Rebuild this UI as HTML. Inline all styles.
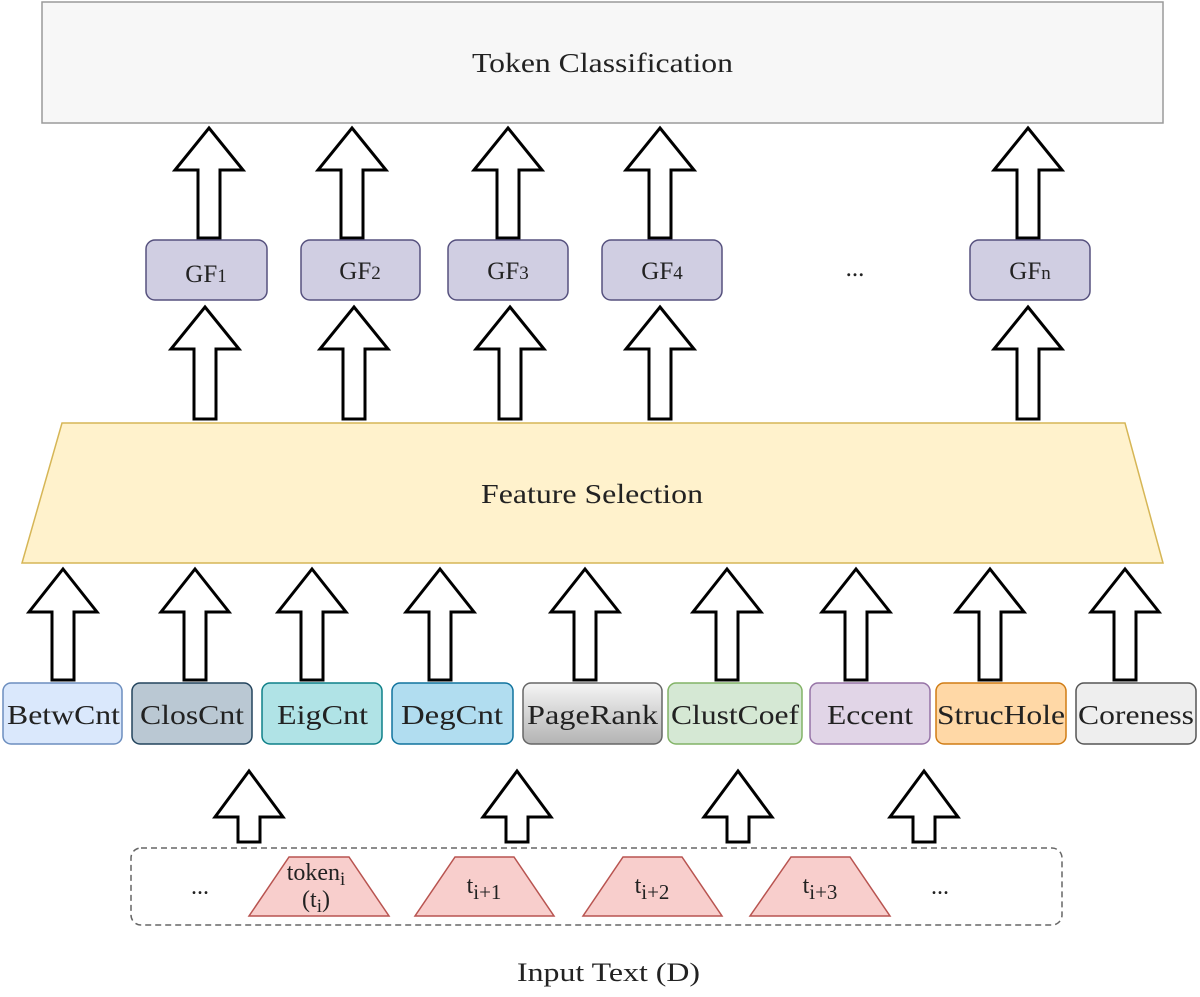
<!DOCTYPE html>
<html><head><meta charset="utf-8"><style>
html,body{margin:0;padding:0;background:#fff}
svg text{font-family:"Liberation Serif",serif;fill:#222}
</style></head><body>
<svg width="1200" height="992" viewBox="0 0 1200 992" xmlns="http://www.w3.org/2000/svg">
<rect x="42" y="2" width="1121" height="121" fill="#f7f7f7" stroke="#9a9a9a" stroke-width="1.5"/>
<text x="472" y="72" font-size="27" textLength="261" lengthAdjust="spacingAndGlyphs" fill="#333">Token Classification</text>

<g fill="#fff" stroke="#000" stroke-width="3" stroke-linejoin="miter">
<path d="M209,128 L243,170 L220,170 L220,238 L198,238 L198,170 L175,170 Z"/>
<path d="M352,128 L386,170 L363,170 L363,238 L341,238 L341,170 L318,170 Z"/>
<path d="M508,128 L542,170 L519,170 L519,238 L497,238 L497,170 L474,170 Z"/>
<path d="M660,128 L694,170 L671,170 L671,238 L649,238 L649,170 L626,170 Z"/>
<path d="M1028,128 L1062,170 L1039,170 L1039,238 L1017,238 L1017,170 L994,170 Z"/>
<path d="M205,307 L239,349 L216,349 L216,419 L194,419 L194,349 L171,349 Z"/>
<path d="M354,307 L388,349 L365,349 L365,419 L343,419 L343,349 L320,349 Z"/>
<path d="M510,307 L544,349 L521,349 L521,419 L499,419 L499,349 L476,349 Z"/>
<path d="M660,307 L694,349 L671,349 L671,419 L649,419 L649,349 L626,349 Z"/>
<path d="M1028,307 L1062,349 L1039,349 L1039,419 L1017,419 L1017,349 L994,349 Z"/>
<path d="M63,569 L97,612 L74,612 L74,680 L52,680 L52,612 L29,612 Z"/>
<path d="M195,569 L229,612 L206,612 L206,680 L184,680 L184,612 L161,612 Z"/>
<path d="M312,569 L346,612 L323,612 L323,680 L301,680 L301,612 L278,612 Z"/>
<path d="M440,569 L474,612 L451,612 L451,680 L429,680 L429,612 L406,612 Z"/>
<path d="M585,569 L619,612 L596,612 L596,680 L574,680 L574,612 L551,612 Z"/>
<path d="M727,569 L761,612 L738,612 L738,680 L716,680 L716,612 L693,612 Z"/>
<path d="M856,569 L890,612 L867,612 L867,680 L845,680 L845,612 L822,612 Z"/>
<path d="M990,569 L1024,612 L1001,612 L1001,680 L979,680 L979,612 L956,612 Z"/>
<path d="M1125,569 L1159,612 L1136,612 L1136,680 L1114,680 L1114,612 L1091,612 Z"/>
<path d="M249,771 L283,817 L260,817 L260,842 L238,842 L238,817 L215,817 Z"/>
<path d="M517,771 L551,817 L528,817 L528,842 L506,842 L506,817 L483,817 Z"/>
<path d="M738,771 L772,817 L749,817 L749,842 L727,842 L727,817 L704,817 Z"/>
<path d="M924,771 L958,817 L935,817 L935,842 L913,842 L913,817 L890,817 Z"/>
</g>

<g fill="#d0cee2" stroke="#56517e" stroke-width="1.5">
<rect x="146" y="240" width="121" height="60" rx="9"/>
<rect x="301" y="240" width="119" height="60" rx="9"/>
<rect x="448" y="240" width="120" height="60" rx="9"/>
<rect x="602" y="240" width="120" height="60" rx="9"/>
<rect x="970" y="240" width="120" height="60" rx="9"/>
</g>
<g font-size="25" text-anchor="middle">
<text x="206" y="282">GF<tspan font-size="19">1</tspan></text>
<text x="360" y="279">GF<tspan font-size="19">2</tspan></text>
<text x="508" y="279">GF<tspan font-size="19">3</tspan></text>
<text x="662" y="279">GF<tspan font-size="19">4</tspan></text>
<text x="1030" y="279">GF<tspan font-size="19">n</tspan></text>
<text x="855" y="276">...</text>
</g>

<polygon points="62,423 1125,423 1163,563 22,563" fill="#fff2cc" stroke="#d6b656" stroke-width="1.5"/>
<text x="481" y="503" font-size="27" textLength="222" lengthAdjust="spacingAndGlyphs">Feature Selection</text>

<rect x="3" y="683" width="119" height="61" rx="8" fill="#dae8fc" stroke="#6c8ebf" stroke-width="1.5"/>
<rect x="132" y="683" width="120" height="61" rx="8" fill="#bac8d3" stroke="#23445d" stroke-width="1.5"/>
<rect x="262" y="683" width="120" height="61" rx="8" fill="#b0e3e6" stroke="#0e8088" stroke-width="1.5"/>
<rect x="392" y="683" width="121" height="61" rx="8" fill="#b1ddf0" stroke="#10739e" stroke-width="1.5"/>
<defs><linearGradient id="g" x1="0" y1="0" x2="0" y2="1"><stop offset="0" stop-color="#f5f5f5"/><stop offset="1" stop-color="#b3b3b3"/></linearGradient></defs>
<rect x="523" y="683" width="139" height="61" rx="8" fill="url(#g)" stroke="#666" stroke-width="1.5"/>
<rect x="668" y="683" width="134" height="61" rx="8" fill="#d5e8d4" stroke="#82b366" stroke-width="1.5"/>
<rect x="810" y="683" width="120" height="61" rx="8" fill="#e1d5e7" stroke="#9673a6" stroke-width="1.5"/>
<rect x="936" y="683" width="130" height="61" rx="8" fill="#ffd8a6" stroke="#d07c14" stroke-width="1.5"/>
<rect x="1076" y="683" width="120" height="61" rx="8" fill="#eeeeee" stroke="#555" stroke-width="1.5"/>
<g font-size="27">
<text x="7" y="724" textLength="113" lengthAdjust="spacingAndGlyphs">BetwCnt</text>
<text x="140" y="724" textLength="104" lengthAdjust="spacingAndGlyphs">ClosCnt</text>
<text x="277" y="724" textLength="91" lengthAdjust="spacingAndGlyphs">EigCnt</text>
<text x="401" y="724" textLength="102" lengthAdjust="spacingAndGlyphs">DegCnt</text>
<text x="527" y="724" textLength="131" lengthAdjust="spacingAndGlyphs">PageRank</text>
<text x="671" y="724" textLength="128" lengthAdjust="spacingAndGlyphs">ClustCoef</text>
<text x="827" y="724" textLength="86" lengthAdjust="spacingAndGlyphs">Eccent</text>
<text x="937" y="724" textLength="128" lengthAdjust="spacingAndGlyphs">StrucHole</text>
<text x="1078" y="724" textLength="116" lengthAdjust="spacingAndGlyphs">Coreness</text>
</g>

<rect x="131" y="848" width="931" height="77" rx="10" fill="none" stroke="#666" stroke-width="1.5" stroke-dasharray="6,4"/>
<g fill="#f8cecc" stroke="#b85450" stroke-width="1.5">
<polygon points="289,857 349,857 389,916 249,916"/>
<polygon points="455,857 514,857 554,916 415,916"/>
<polygon points="623,857 682,857 722,916 583,916"/>
<polygon points="791,857 850,857 890,916 750,916"/>
</g>
<g font-size="24" text-anchor="middle">
<text x="200" y="894">...</text>
<text x="940" y="894">...</text>
<text x="316" y="880">token<tspan font-size="19" dy="5">i</tspan></text>
<text x="316" y="907">(t<tspan font-size="19" dy="5">i</tspan><tspan dy="-5">)</tspan></text>
<text x="484" y="893">t<tspan font-size="21" dy="6">i+1</tspan></text>
<text x="652" y="893">t<tspan font-size="21" dy="6">i+2</tspan></text>
<text x="820" y="893">t<tspan font-size="21" dy="6">i+3</tspan></text>
</g>
<text x="517" y="981" font-size="26" textLength="183" lengthAdjust="spacingAndGlyphs">Input Text (D)</text>
</svg>
</body></html>
